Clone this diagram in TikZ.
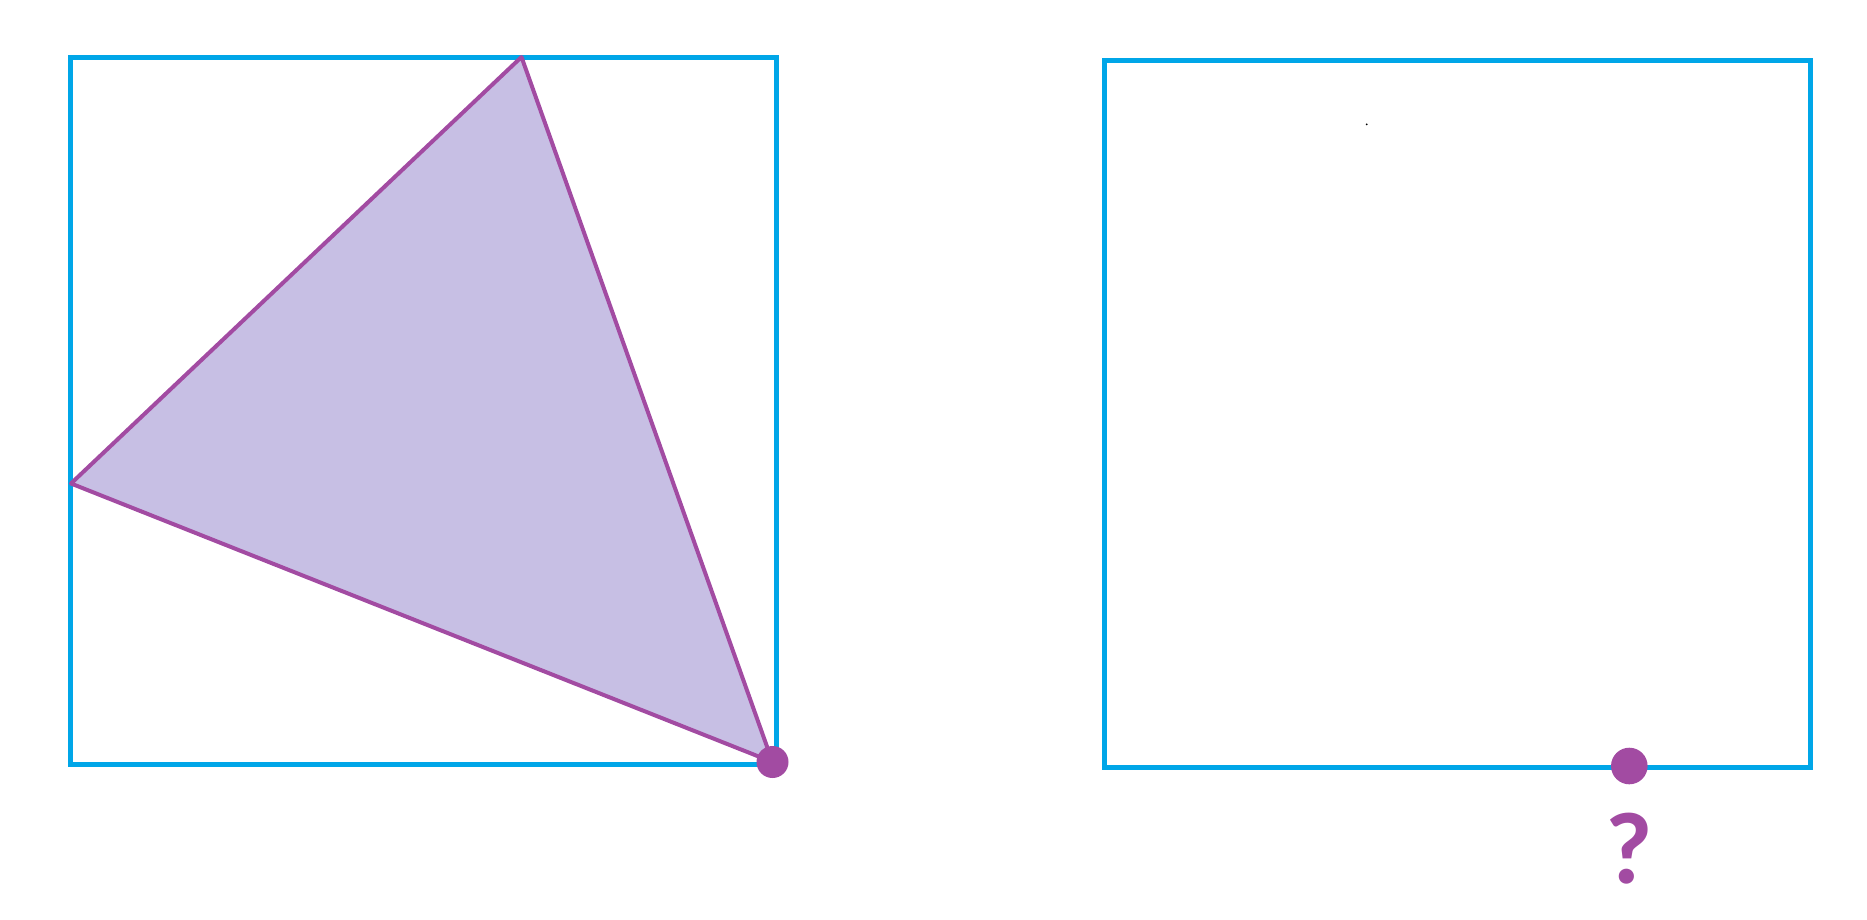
\documentclass[tikz,border=0pt]{standalone}
\usepackage{fontspec}
\setmainfont{Carlito}
\definecolor{sqblue}{RGB}{0,166,232}
\definecolor{tripurple}{RGB}{162,75,162}
\definecolor{trifill}{RGB}{199,191,228}
\begin{document}
\begin{tikzpicture}[x=1pt,y=-1pt,
  square/.style={draw=sqblue,line width=5pt},
  tri/.style={draw=tripurple,fill=trifill,line width=4pt,line join=round},
  pdot/.style={fill=tripurple},
  qmark/.style={text=tripurple,font=\bfseries\fontsize{102}{102}\selectfont,inner sep=0pt}]
\useasboundingbox (0,0) rectangle (1867,919);
% left square
\draw[square] (70.5,57.5) rectangle (776.5,764);
% triangle
\coordinate (A) at (521.5,57);
\coordinate (B) at (71,483.5);
\coordinate (C) at (772.5,762);
\draw[tri] (A) -- (B) -- (C) -- cycle;
\fill[pdot] (C) circle (16);
% right square
\draw[square] (1104.5,60.5) rectangle (1810.5,767.5);
\coordinate (D) at (1629.3,766);
\fill[pdot] (D) circle (18.3);
\node[qmark,anchor=base] (q) at (1629,883) {?};
\fill[black] (1366.7,124.3) circle (1);
\end{tikzpicture}
\end{document}
